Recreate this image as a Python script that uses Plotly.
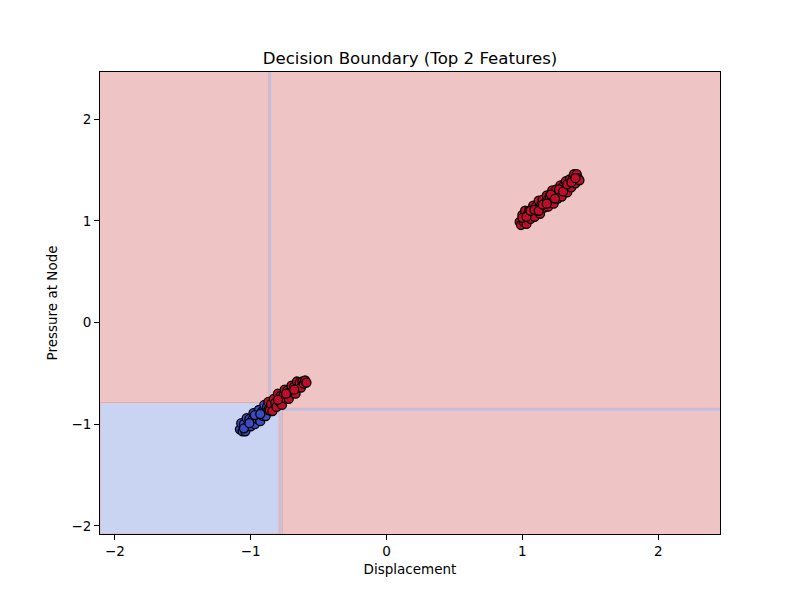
import plotly.graph_objects as go

# Axis extents
x_range = [-2.11, 2.455]
y_range = [-2.08, 2.465]

# Decision-tree split thresholds
blue_region_x = [-2.11, -0.791]      # class-0 rectangle, x span
blue_region_y = [-2.08, -0.787]      # class-0 rectangle, y span
strip_upper_x = -0.858               # thin class-0 strip (vertical, upper)
strip_lower_x = -0.778               # thin class-0 strip (vertical, lower)
strip_horiz_y = -0.857               # thin class-0 strip (horizontal)

# Class 1 (red) points
red_x = [0.98, 0.99, 1.00, 1.01, 1.02, 1.03, 1.04, 1.05, 1.06, 1.07, 1.08, 1.09, 1.10, 1.11,
         1.12, 1.13, 1.14, 1.15, 1.16, 1.17, 1.18, 1.19, 1.20, 1.21, 1.22, 1.23, 1.24, 1.25,
         1.26, 1.27, 1.28, 1.29, 1.30, 1.31, 1.32, 1.33, 1.34, 1.35, 1.36, 1.37, 1.38, 1.39,
         1.40, 1.41, 1.42,
         1.00, 1.03, 1.06, 1.09, 1.12, 1.15, 1.18, 1.21, 1.24, 1.27, 1.30, 1.33, 1.36, 1.39,
         -0.87, -0.86, -0.85, -0.84, -0.83, -0.82, -0.81, -0.80, -0.79, -0.78, -0.77, -0.76,
         -0.75, -0.74, -0.73, -0.72, -0.71, -0.70, -0.69, -0.68, -0.67, -0.66, -0.65, -0.64,
         -0.63, -0.62, -0.61, -0.60, -0.59, -0.80, -0.74, -0.68]
red_y = [0.99, 0.96, 1.06, 0.99, 1.10, 0.97, 1.07, 1.10, 1.02, 1.08, 1.15, 1.04, 1.14, 1.10,
         1.20, 1.07, 1.16, 1.21, 1.13, 1.18, 1.25, 1.14, 1.24, 1.19, 1.30, 1.17, 1.26, 1.31,
         1.22, 1.28, 1.35, 1.24, 1.34, 1.29, 1.39, 1.28, 1.37, 1.41, 1.33, 1.41, 1.46, 1.37,
         1.46, 1.42, 1.40,
         1.03, 1.04, 1.10, 1.11, 1.10, 1.16, 1.17, 1.26, 1.22, 1.31, 1.29, 1.36, 1.38, 1.42,
         -0.78, -0.86, -0.80, -0.87, -0.75, -0.79, -0.83, -0.70, -0.78, -0.72, -0.81, -0.72,
         -0.66, -0.75, -0.67, -0.75, -0.68, -0.62, -0.69, -0.63, -0.70, -0.58, -0.64, -0.59,
         -0.64, -0.58, -0.60, -0.57, -0.59, -0.76, -0.70, -0.66]

# Class 0 (blue) points
blue_x = [-1.08, -1.07, -1.06, -1.05, -1.04, -1.03, -1.02, -1.01, -1.00, -0.99, -0.98, -0.97,
          -0.96, -0.95, -0.94, -0.93, -0.92, -0.91, -0.90, -0.89, -0.88, -0.87, -0.86, -0.85,
          -0.84, -1.05, -1.01, -0.97, -0.93]
blue_y = [-1.05, -0.99, -1.07, -1.00, -1.07, -0.94, -1.01, -0.95, -1.02, -0.96, -0.89, -1.00,
          -0.91, -0.95, -0.86, -0.97, -0.88, -0.92, -0.81, -0.92, -0.83, -0.86, -0.78, -0.87,
          -0.81, -1.04, -0.99, -0.91, -0.90]

x_ticks = [-2, -1, 0, 1, 2]
y_ticks = [-2, -1, 0, 1, 2]

BLUE_BG = "rgb(201,211,242)"
RED_BG = "rgb(239,196,196)"
EDGE = "rgb(238,168,160)"
STRIP = "rgb(178,196,242)"

fig = go.Figure()
# class-0 region
fig.add_trace(go.Scatter(
    x=[blue_region_x[0], blue_region_x[1], blue_region_x[1], blue_region_x[0], blue_region_x[0]],
    y=[blue_region_y[0], blue_region_y[0], blue_region_y[1], blue_region_y[1], blue_region_y[0]],
    mode="lines", fill="toself", fillcolor=BLUE_BG, line=dict(color=EDGE, width=1),
    showlegend=False, hoverinfo="skip",
))
# thin class-0 strips (edge + strip)
fig.add_trace(go.Scatter(x=[strip_upper_x - 0.009] * 2, y=[blue_region_y[1], y_range[1]],
                         mode="lines", line=dict(color=EDGE, width=1), showlegend=False, hoverinfo="skip"))
fig.add_trace(go.Scatter(x=[strip_upper_x] * 2, y=[blue_region_y[1], y_range[1]],
                         mode="lines", line=dict(color=STRIP, width=2), showlegend=False, hoverinfo="skip"))
fig.add_trace(go.Scatter(x=[strip_lower_x, x_range[1]], y=[strip_horiz_y + 0.014] * 2,
                         mode="lines", line=dict(color=EDGE, width=1), showlegend=False, hoverinfo="skip"))
fig.add_trace(go.Scatter(x=[strip_lower_x, x_range[1]], y=[strip_horiz_y] * 2,
                         mode="lines", line=dict(color=STRIP, width=2), showlegend=False, hoverinfo="skip"))
fig.add_trace(go.Scatter(x=[strip_lower_x + 0.011] * 2, y=[y_range[0], strip_horiz_y],
                         mode="lines", line=dict(color=EDGE, width=1), showlegend=False, hoverinfo="skip"))
fig.add_trace(go.Scatter(x=[strip_lower_x] * 2, y=[y_range[0], strip_horiz_y],
                         mode="lines", line=dict(color=STRIP, width=1.5), showlegend=False, hoverinfo="skip"))

fig.add_trace(go.Scatter(
    x=blue_x, y=blue_y, mode="markers",
    marker=dict(size=9, color="rgb(59,76,192)", line=dict(color="black", width=1.3)),
    showlegend=False,
))
fig.add_trace(go.Scatter(
    x=red_x, y=red_y, mode="markers",
    marker=dict(size=9, color="rgb(192,14,42)", line=dict(color="black", width=1.3)),
    showlegend=False,
))

axis_common = dict(
    showgrid=False, zeroline=False, showline=True, mirror=True,
    linecolor="black", linewidth=1, ticks="outside", ticklen=5, tickcolor="black",
    tickfont=dict(family="DejaVu Sans", size=13.5, color="black"),
)
fig.update_layout(
    width=800, height=600,
    margin=dict(l=100, r=80, t=72, b=66),
    paper_bgcolor="white", plot_bgcolor=RED_BG,
    title=dict(text="Decision Boundary (Top 2 Features)", x=0.5125, xanchor="center",
               y=0.903, yanchor="middle",
               font=dict(family="DejaVu Sans", size=16.6, color="black")),
    xaxis=dict(range=x_range, tickvals=x_ticks,
               title=dict(text="Displacement", font=dict(family="DejaVu Sans", size=13.5, color="black"), standoff=6),
               **axis_common),
    yaxis=dict(range=y_range, tickvals=y_ticks,
               title=dict(text="Pressure at Node", font=dict(family="DejaVu Sans", size=13.5, color="black"), standoff=10),
               **axis_common),
)
fig.write_html("out.html")
